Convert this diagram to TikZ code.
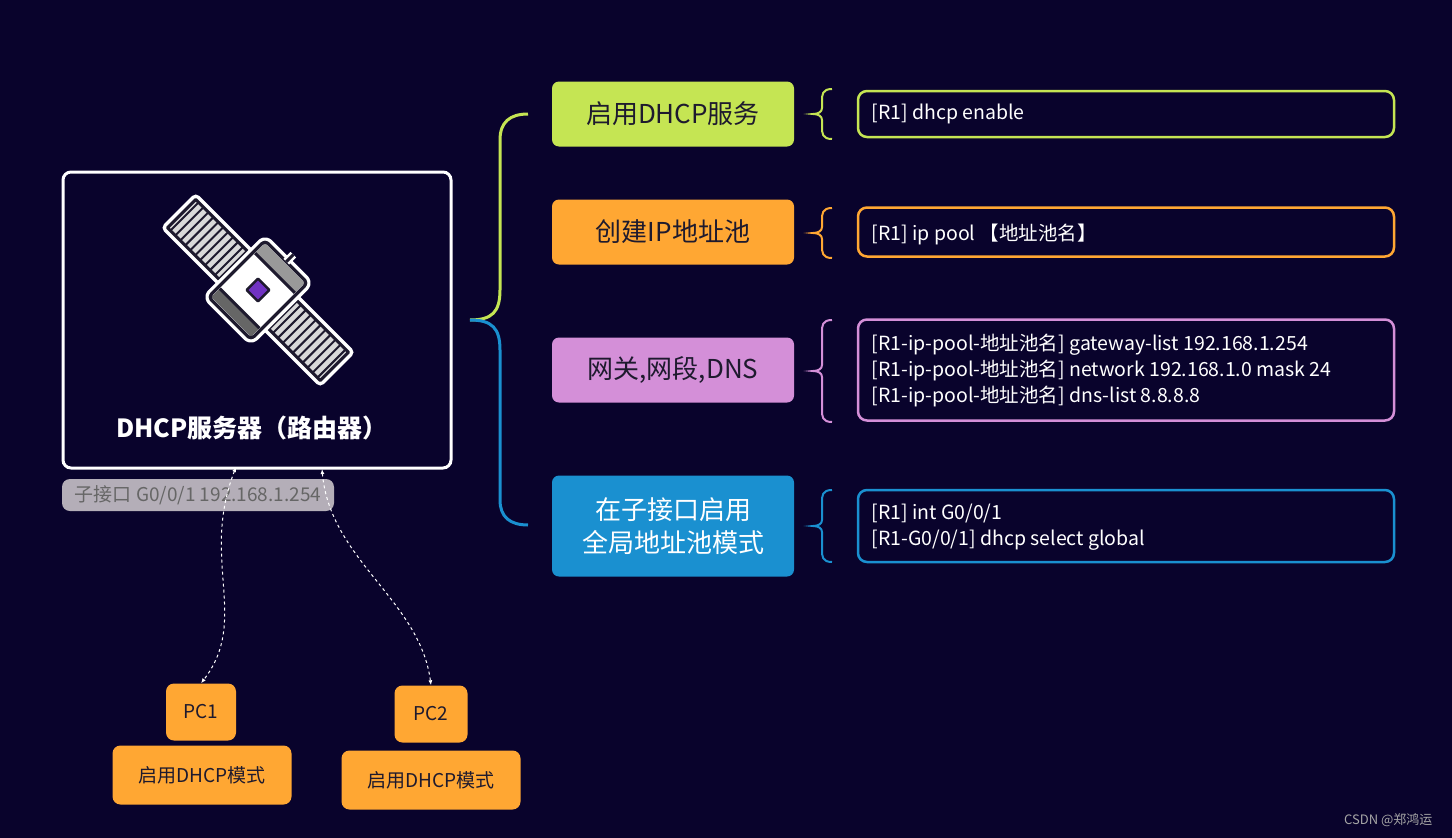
\documentclass[tikz,border=0pt]{standalone}
\usepackage{fontspec}
\setmainfont{Noto Sans CJK SC}
\usetikzlibrary{arrows.meta,decorations.pathreplacing}
\definecolor{bg}{HTML}{09032C}
\definecolor{cgreen}{HTML}{C5E553}
\definecolor{corange}{HTML}{FFA733}
\definecolor{cpink}{HTML}{D48FD8}
\definecolor{cblue}{HTML}{1A90D0}
\definecolor{cdark}{HTML}{1E1A2E}
\definecolor{cgray}{HTML}{B4AEB8}
\begin{document}
\begin{tikzpicture}[x=1pt,y=-1pt,
  tag/.style={rounded corners=7pt,inner sep=0pt,font=\fontsize{26}{31}\selectfont,align=center},
  cmd/.style={draw,line width=2.5pt,rounded corners=9pt,inner sep=0pt},
  ctext/.style={anchor=west,text=white,font=\fontsize{19.5}{26}\selectfont,align=left},
  pc/.style={fill=corange,rounded corners=8pt,text=cdark,font=\fontsize{19}{22}\selectfont},
  link/.style={white,dashed,line width=1pt,{Latex[length=5pt,width=4pt]}-{Latex[length=5pt,width=4pt]}}]
\fill[bg] (0,0) rectangle (1452,838);
\useasboundingbox (0,0) rectangle (1452,838);
% router
\node[draw=white,line width=3pt,rounded corners=8pt,minimum width=388pt,minimum height=296pt] (router) at (257,320) {};
\node[text=white,font=\bfseries\fontsize{25}{28}\selectfont] (rlabel) at (252,428) {DHCP服务器（路由器）};
\node[fill=cgray,rounded corners=8pt,minimum width=272pt,minimum height=32pt,text=black!60,font=\fontsize{19}{22}\selectfont,inner sep=0pt] (iface) at (198,495) {子接口 G0/0/1 192.168.1.254};
% satellite
\begin{scope}[shift={(258,290)},rotate=-45,line join=round]
  \foreach \s in {-1,1}{
    \draw[white,line width=10pt] (\s*35,-20) rectangle (\s*108,20);
    \draw[fill=black!15,draw=cdark,line width=3pt] (\s*35,-20) rectangle (\s*108,20);
    \foreach \k in {0,...,9} \draw[cdark,line width=2pt] (\s*41+\s*\k*7,-20) -- (\s*41+\s*\k*7,20);
  }
  \draw[white,line width=10pt,rounded corners=4pt] (-30,-40) rectangle (30,40);
  \draw[fill=white,draw=cdark,line width=3pt,rounded corners=4pt] (-30,-40) rectangle (30,40);
  \fill[black!40] (-28,-38) rectangle (28,-24);
  \fill[black!60] (-28,38) rectangle (28,26);
  \draw[cdark,line width=3pt,rounded corners=4pt] (-30,-40) rectangle (30,40);
  \draw[cdark,line width=3pt] (-28,-24) -- (28,-24) (-28,26) -- (28,26);
  \draw[white,line width=8pt] (0,-40) -- (0,-50);
  \draw[cdark,line width=3pt] (0,-40) -- (0,-50);
  \draw[fill=violet!60!blue!80!white,draw=cdark,line width=2.5pt] (-8,-8) rectangle (8,8);
\end{scope}
% PCs
\node[pc,minimum width=70pt,minimum height=57pt] (pc1) at (201,712) {PC1};
\node[pc,minimum width=179pt,minimum height=59pt] (m1) at (202,775) {启用DHCP模式};
\node[pc,minimum width=73pt,minimum height=57pt] (pc2) at (431,714) {PC2};
\node[pc,minimum width=179pt,minimum height=59pt] (m2) at (431,780) {启用DHCP模式};
\coordinate (r1) at (236,467); \coordinate (r2) at (322,469);
\draw[link] (r1) .. controls (200,560) and (250,620) .. (pc1.north);
\draw[link] (r2) .. controls (330,560) and (420,600) .. (pc2.north);
% category tags
\node[tag,fill=cgreen,text=cdark,minimum width=242pt,minimum height=65pt] (t1) at (673,114) {启用DHCP服务};
\node[tag,fill=corange,text=cdark,minimum width=242pt,minimum height=65pt] (t2) at (673,232) {创建IP地址池};
\node[tag,fill=cpink,text=cdark,minimum width=242pt,minimum height=65pt] (t3) at (673,370) {网关,网段,DNS};
\node[tag,fill=cblue,text=white,minimum width=242pt,minimum height=101pt,font=\fontsize{26}{33}\selectfont] (t4) at (673,526) {在子接口启用\\全局地址池模式};
% big brace
\coordinate (tip) at (470,320);
\draw[cgreen,line width=3pt] (tip) .. controls (492,320) and (500,312) .. (500,290) -- (500,140) .. controls (500,122) and (510,114) .. (528,114);
\draw[cblue,line width=3pt] (tip) .. controls (492,320) and (500,328) .. (500,350) -- (500,500) .. controls (500,517) and (510,525) .. (528,525);
% commands
\node[cmd,draw=cgreen,minimum width=536pt,minimum height=46pt] (c1) at (1126,114) {};
\node[cmd,draw=corange,minimum width=536pt,minimum height=49pt] (c2) at (1126,232) {};
\node[cmd,draw=cpink,minimum width=536pt,minimum height=101pt] (c3) at (1126,370) {};
\node[cmd,draw=cblue,minimum width=536pt,minimum height=72pt] (c4) at (1126,526) {};
\node[ctext] (x1) at (868,114) {[R1] dhcp enable};
\node[ctext] (x2) at (868,234) {[R1] ip pool 【地址池名】};
\node[ctext] (x3) at (868,371) {{[R1-ip-pool-地址池名]} gateway-list 192.168.1.254\\{}{[R1-ip-pool-地址池名]} network 192.168.1.0 mask 24\\{}{[R1-ip-pool-地址池名]} dns-list 8.8.8.8};
\node[ctext] (x4) at (868,527) {{[R1]} int G0/0/1\\{}{[R1-G0/0/1]} dhcp select global};
% small braces
\foreach \y/\h/\c in {114/25/cgreen,233/25/corange,371/51/cpink,526/36/cblue}{
  \draw[\c,line width=2pt] (832,\y-\h) .. controls (822,\y-\h) and (822,\y-\h+6) .. (822,\y-\h+12) -- (822,\y-6) .. controls (822,\y-2) and (818,\y) .. (813,\y) .. controls (818,\y) and (822,\y+2) .. (822,\y+6) -- (822,\y+\h-12) .. controls (822,\y+\h-6) and (822,\y+\h) .. (832,\y+\h);
}
\node[text=black!35,font=\fontsize{13}{15}\selectfont,anchor=east] (wm) at (1436,820) {CSDN @郑鸿运};
\end{tikzpicture}
\end{document}
